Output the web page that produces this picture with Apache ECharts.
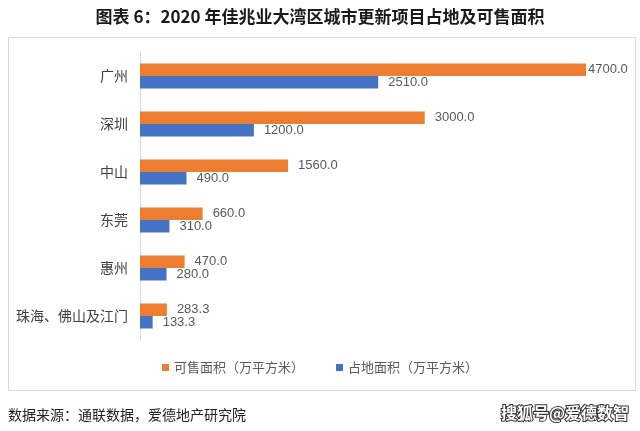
<!DOCTYPE html>
<html>
<head>
<meta charset="utf-8">
<script src="https://cdn.jsdelivr.net/npm/echarts@6/dist/echarts.min.js"></script>
<style>
  html, body { margin: 0; padding: 0; background: #fff; }
  #chart { width: 640px; height: 431px; }
</style>
</head>
<body>
<div id="chart"></div>
<script>
const cities = ["广州", "深圳", "中山", "东莞", "惠州", "珠海、佛山及江门"];
const saleArea = [4700.0, 3000.0, 1560.0, 660.0, 470.0, 283.3];
const landArea = [2510.0, 1200.0, 490.0, 310.0, 280.0, 133.3];
const seriesNames = ["可售面积（万平方米）", "占地面积（万平方米）"];

const font = "'Noto Sans CJK SC', 'Noto Sans', sans-serif";
const numFont = "'Liberation Sans', Arial, sans-serif";
const chart = echarts.init(document.getElementById("chart"));

// the longest bar's label sits tight against its bar end
const saleData = saleArea.map((v, i) => (i === 0 ? { value: v, label: { distance: 2 } } : v));

function valueLabel() {
  return {
    show: true,
    position: "right",
    distance: 10,
    formatter: (p) => p.value.toFixed(1),
    fontSize: 13,
    color: "#595959",
    fontFamily: numFont,
  };
}

chart.setOption({
  animation: false,
  textStyle: { fontFamily: font },
  title: {
    text: "图表 6：2020 年佳兆业大湾区城市更新项目占地及可售面积",
    left: "center",
    top: 3,
    textStyle: { fontSize: 17, fontWeight: "bold", color: "#1a1a1a", fontFamily: font },
  },
  graphic: [
    {
      type: "rect",
      shape: { x: 8.5, y: 37.5, width: 627, height: 353 },
      style: { fill: "none", stroke: "#d9d9d9", lineWidth: 1 },
      silent: true,
    },
    {
      type: "text",
      left: 8,
      top: 408,
      style: { text: "数据来源：通联数据，爱德地产研究院", fontSize: 14, fill: "#222", fontFamily: font },
    },
    {
      type: "text",
      right: 10,
      top: 404,
      style: {
        text: "搜狐号@爱德数智",
        fontSize: 16,
        fontWeight: "bold",
        fill: "#fff",
        stroke: "#333",
        lineWidth: 2,
        fontFamily: font,
      },
    },
  ],
  legend: {
    data: seriesNames,
    bottom: 52,
    left: "center",
    itemWidth: 7,
    itemHeight: 7,
    itemGap: 32,
    icon: "rect",
    textStyle: { fontSize: 13, color: "#595959", fontFamily: font },
  },
  grid: { left: 140, right: 25.5, top: 52, bottom: 91, containLabel: false },
  xAxis: {
    type: "value",
    min: 0,
    max: 5000,
    show: false,
  },
  yAxis: {
    type: "category",
    data: cities,
    inverse: true,
    axisLine: { show: true, lineStyle: { color: "#d9d9d9", width: 1 } },
    axisTick: { show: false },
    axisLabel: { fontSize: 14, color: "#404040", margin: 12, fontFamily: font },
  },
  series: [
    {
      name: seriesNames[0],
      type: "bar",
      data: saleData,
      barWidth: 12.5,
      barGap: "0%",
      itemStyle: { color: "#ED7D31" },
      label: valueLabel(),
    },
    {
      name: seriesNames[1],
      type: "bar",
      data: landArea,
      barWidth: 12.5,
      barGap: "0%",
      itemStyle: { color: "#4472C4" },
      label: valueLabel(),
    },
  ],
});
</script>
</body>
</html>
